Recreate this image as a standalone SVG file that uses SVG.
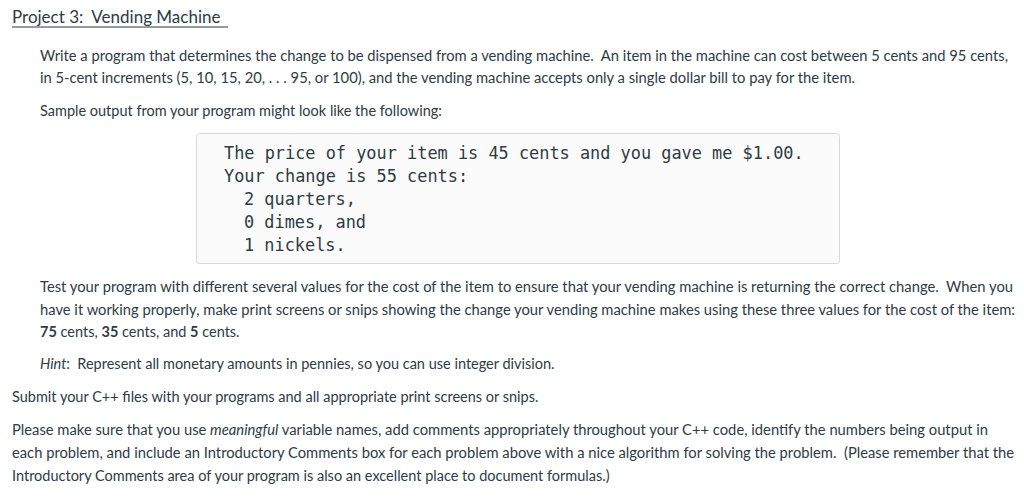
<svg xmlns="http://www.w3.org/2000/svg" width="1024" height="498" viewBox="0 0 1024 498" xml:space="preserve">
<style>
text{font-family:Lato,"Liberation Sans",sans-serif;font-size:14.5px;fill:#2d3b45;white-space:pre}
.m{font-family:"DejaVu Sans Mono","Liberation Mono",monospace;font-size:16.9px;fill:#2d3b45}
.t{font-size:17px;fill:#2d3b45}
</style>
<rect width="1024" height="498" fill="#fff"/>
<text class="t" x="12" y="23">Project 3:  Vending Machine</text>
<line x1="12" y1="27" x2="228" y2="27" stroke="#2d3b45" stroke-width="1"/>
<text x="40" y="61" textLength="968" lengthAdjust="spacingAndGlyphs">Write a program that determines the change to be dispensed from a vending machine.  An item in the machine can cost between 5 cents and 95 cents,</text>
<text x="40" y="83" textLength="815" lengthAdjust="spacingAndGlyphs">in 5-cent increments (5, 10, 15, 20, . . . 95, or 100), and the vending machine accepts only a single dollar bill to pay for the item.</text>
<text x="40" y="116">Sample output from your program might look like the following:</text>
<g id="code">
<rect x="196.5" y="133.5" width="643" height="130" rx="3" fill="#fbfbfb" stroke="#d8d8d8"/>
<text class="m" x="224" y="159">The price of your item is 45 cents and you gave me $1.00.</text>
<text class="m" x="224" y="182">Your change is 55 cents:</text>
<text class="m" x="244" y="205">2 quarters,</text>
<text class="m" x="244" y="228">0 dimes, and</text>
<text class="m" x="244" y="251">1 nickels.</text>
</g>
<text x="40" y="292" textLength="973" lengthAdjust="spacingAndGlyphs">Test your program with different several values for the cost of the item to ensure that your vending machine is returning the correct change.  When you</text>
<text x="40" y="315" textLength="975" lengthAdjust="spacingAndGlyphs">have it working properly, make print screens or snips showing the change your vending machine makes using these three values for the cost of the item:</text>
<text x="40" y="337"><tspan font-weight="bold">75</tspan> cents, <tspan font-weight="bold">35</tspan> cents, and <tspan font-weight="bold">5</tspan> cents.</text>
<text x="40" y="369"><tspan font-style="italic">Hint</tspan>:  Represent all monetary amounts in pennies, so you can use integer division.</text>
<text x="12" y="402">Submit your C++ files with your programs and all appropriate print screens or snips.</text>
<text x="12" y="435" textLength="976" lengthAdjust="spacingAndGlyphs">Please make sure that you use <tspan font-style="italic">meaningful</tspan> variable names, add comments appropriately throughout your C++ code, identify the numbers being output in</text>
<text x="12" y="458" textLength="1002" lengthAdjust="spacingAndGlyphs">each problem, and include an Introductory Comments box for each problem above with a nice algorithm for solving the problem.  (Please remember that the</text>
<text x="12" y="481">Introductory Comments area of your program is also an excellent place to document formulas.)</text>
</svg>
